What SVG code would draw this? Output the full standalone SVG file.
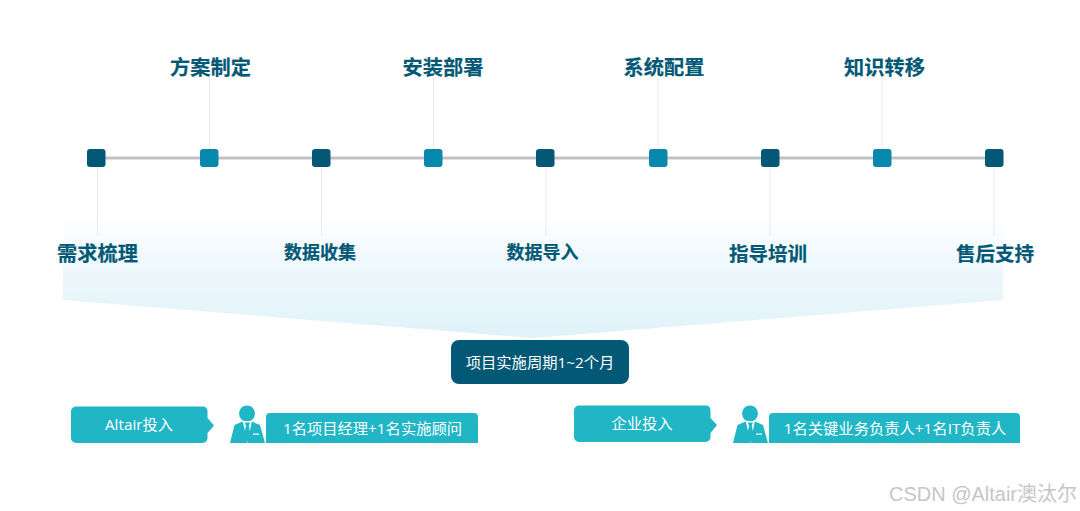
<svg xmlns="http://www.w3.org/2000/svg" width="1080" height="511" viewBox="0 0 1080 511">
<style>
text{font-family:"Open Sans","Noto Sans CJK SC",sans-serif}
.t{font-size:20.200px;font-weight:700;fill:#025875;text-anchor:middle;stroke:#025875;stroke-width:.2px}
.s{font-size:18px}
.m{font-size:19.500px}
.w{font-size:15.300px;fill:#fff;text-anchor:middle}
.a{fill:#025875}.b{fill:#0689ad}
.v{stroke:#e6e8ea;stroke-width:1;fill:none}
.c{fill:#20b6c6}
</style>
<defs>
<linearGradient id="g" x1="0" y1="0" x2="0" y2="1"><stop offset="0" stop-color="#dff2f9" stop-opacity="0"/><stop offset=".35" stop-color="#dff2f9" stop-opacity=".45"/><stop offset="1" stop-color="#dff2f9"/></linearGradient>
<g id="person">
<circle class="c" cx="17" cy="8.500" r="8"/>
<path class="c" d="M0 38L4.500 20L12.500 16.500H22L30 20L35 38Z"/>
<path fill="#fff" d="M12.800 16L17.500 38L21.800 16Z"/>
<path class="c" d="M14.800 17.500H20L18.800 21L21 31L17.500 36.500L13.800 31L16 21Z"/>
<rect x="23" y="28.500" width="6" height="1.200" fill="#fff"/>
</g>
</defs>
<rect width="1080" height="511" fill="#fff"/>
<path d="M63 214H1003V300L533 338L63 300Z" fill="url(#g)"/>
<g id="connectors">
<line x1="96" y1="158" x2="994" y2="158" stroke="#bfc1c3" stroke-width="3"/>
<line class="v" x1="209.500" y1="78" x2="209.500" y2="149"/>
<line class="v" x1="433.500" y1="78" x2="433.500" y2="149"/>
<line class="v" x1="658" y1="78" x2="658" y2="149"/>
<line class="v" x1="882" y1="78" x2="882" y2="149"/>
<line class="v" x1="97.500" y1="167" x2="97.500" y2="236"/>
<line class="v" x1="321.500" y1="167" x2="321.500" y2="236"/>
<line class="v" x1="546" y1="167" x2="546" y2="236"/>
<line class="v" x1="770" y1="167" x2="770" y2="236"/>
<line class="v" x1="994" y1="167" x2="994" y2="236"/>
</g>
<g id="n1"><rect class="a" x="87" y="149" width="18.500" height="18" rx="3"/><text class="t" x="97.500" y="261">需求梳理</text></g>
<g id="n2"><rect class="b" x="200" y="149" width="18.500" height="18" rx="3"/><text class="t" x="210.500" y="75">方案制定</text></g>
<g id="n3"><rect class="a" x="312" y="149" width="18.500" height="18" rx="3"/><text class="t s" x="320" y="259">数据收集</text></g>
<g id="n4"><rect class="b" x="424" y="149" width="18.500" height="18" rx="3"/><text class="t" x="443" y="75">安装部署</text></g>
<g id="n5"><rect class="a" x="536" y="149" width="18.500" height="18" rx="3"/><text class="t s" x="542.500" y="259">数据导入</text></g>
<g id="n6"><rect class="b" x="649" y="149" width="18.500" height="18" rx="3"/><text class="t" x="664" y="75">系统配置</text></g>
<g id="n7"><rect class="a" x="761" y="149" width="18.500" height="18" rx="3"/><text class="t m" x="768" y="261">指导培训</text></g>
<g id="n8"><rect class="b" x="873" y="149" width="18.500" height="18" rx="3"/><text class="t" x="884.500" y="75">知识转移</text></g>
<g id="n9"><rect class="a" x="985" y="149" width="18.500" height="18" rx="3"/><text class="t m" x="995" y="261">售后支持</text></g>
<g id="period"><rect class="a" x="451" y="340" width="178" height="44" rx="8"/><text class="w" x="540" y="368">项目实施周期1~2个月</text></g>
<g id="altair">
<path class="c" d="M76 406.500H203a4.500 4.500 0 0 1 4.500 4.500V418L214 425.500L207.500 433V438a5 5 0 0 1-5 5H76a5 5 0 0 1-5-5V411.500a5 5 0 0 1 5-5Z"/>
<text class="w" x="139" y="430">Altair投入</text>
<use href="#person" x="230" y="405"/>
<path class="c" d="M270 413H474a4 4 0 0 1 4 4V443H266V417a4 4 0 0 1 4-4Z"/>
<text class="w" x="372.500" y="434">1名项目经理+1名实施顾问</text>
</g>
<g id="enterprise">
<path class="c" d="M579 405.500H706a4.500 4.500 0 0 1 4.500 4.500V418L717 425L710.500 433V437a5 5 0 0 1-5 5H579a5 5 0 0 1-5-5V410.500a5 5 0 0 1 5-5Z"/>
<text class="w" x="642" y="429">企业投入</text>
<use href="#person" x="733" y="405"/>
<path class="c" d="M773 413H1016a4 4 0 0 1 4 4V443H769V417a4 4 0 0 1 4-4Z"/>
<text class="w" x="895" y="434">1名关键业务负责人+1名IT负责人</text>
</g>
<text x="983" y="501" font-size="20" fill="#c4c6c8" text-anchor="middle" style="font-family:'Liberation Sans','Noto Sans CJK SC',sans-serif">CSDN @Altair澳汰尔</text>
</svg>
